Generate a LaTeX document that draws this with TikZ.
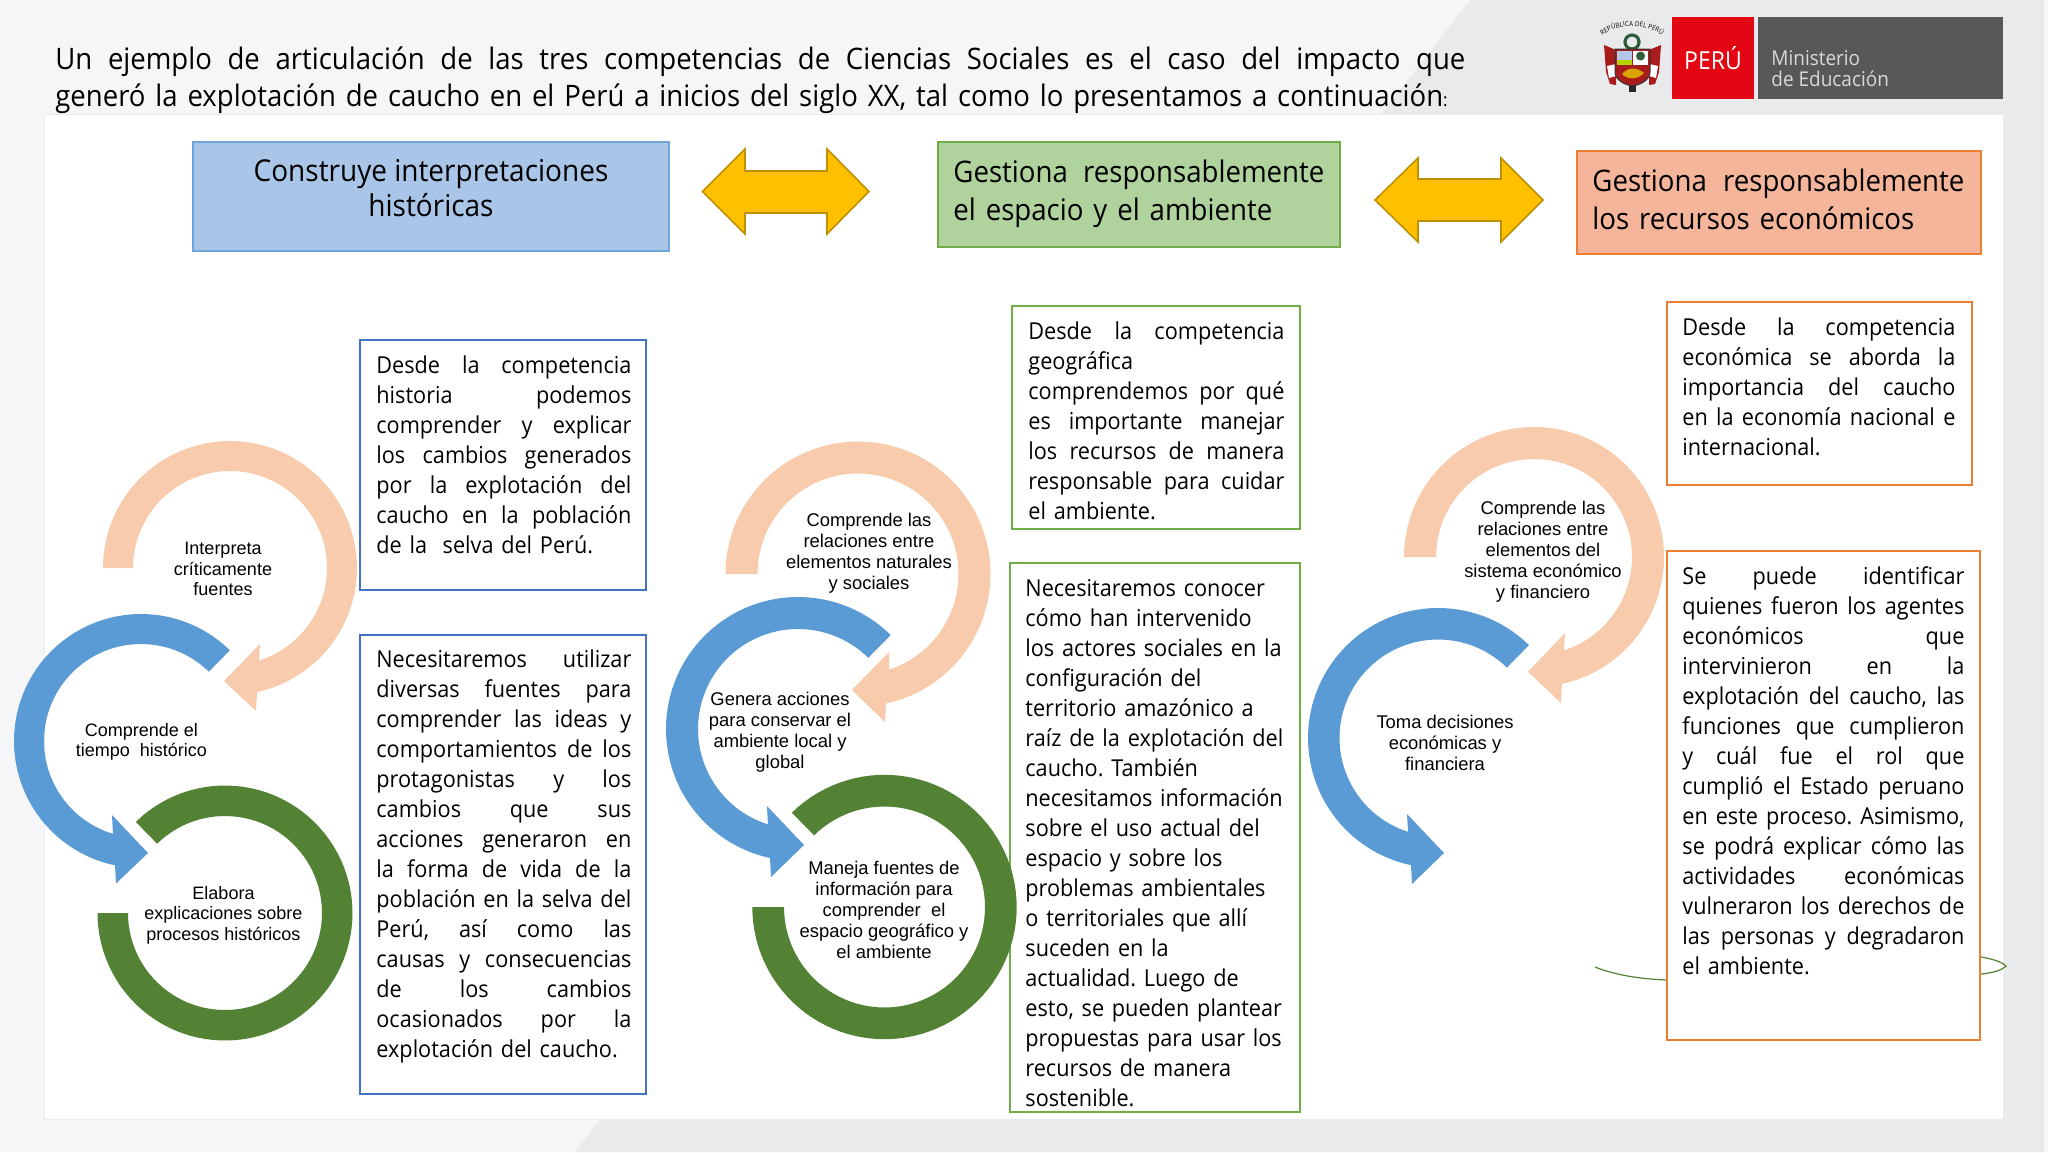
\documentclass[tikz,border=0pt]{standalone}
\usepackage{fontspec}
\usetikzlibrary{decorations.text}
\setmainfont[FakeStretch=0.93]{Open Sans}
\newfontfamily\lblfont{Liberation Sans}
\definecolor{bglight}{HTML}{F5F6F8}
\definecolor{bgdark}{HTML}{E9EAEC}
\definecolor{peach}{HTML}{F7CBAC}
\definecolor{ringblue}{HTML}{5B9BD5}
\definecolor{ringgreen}{HTML}{548235}
\definecolor{gold}{HTML}{FFC000}
\definecolor{goldline}{HTML}{BF9000}
\definecolor{headblue}{HTML}{A9C5E7}
\definecolor{headblueline}{HTML}{6FA5DA}
\definecolor{headgreen}{HTML}{B0D29D}
\definecolor{headgreenline}{HTML}{70AD47}
\definecolor{headorange}{HTML}{F5B59B}
\definecolor{headorangeline}{HTML}{ED7D31}
\definecolor{boxblue}{HTML}{4472C4}
\definecolor{perured}{HTML}{E30613}
\definecolor{perugray}{HTML}{58585A}
\definecolor{crestred}{HTML}{A81C1C}
\definecolor{crestgreen}{HTML}{2F5D3A}
\newcommand\J[1]{\par\hbox to \hsize{\strut\frenchspacing\spaceskip=0.26em plus 1fil minus 0.05em\relax #1}}
\newcommand\Lf[1]{\par\hbox{\strut\frenchspacing #1}}
\newcommand\ringpart[8]{% colour, cx, cy, R, r, a0, outer end, inner end
  \fill[#1] plot[domain=#6:#7,samples=90] ({#2+#4*cos(\x)},{#3-#4*sin(\x)})
    -- plot[domain=#8:#6,samples=90] ({#2+#5*cos(\x)},{#3-#5*sin(\x)}) -- cycle;}
\newcommand\ringarrow[9]{% colour, cx, cy, R, r, a0, outer end, inner end, head points
  \fill[#1] plot[domain=#6:#7,samples=90] ({#2+#4*cos(\x)},{#3-#4*sin(\x)})
    -- #9 -- plot[domain=#8:#6,samples=90] ({#2+#5*cos(\x)},{#3-#5*sin(\x)}) -- cycle;}
\tikzset{
  head/.style={rectangle,anchor=north west,inner sep=0pt,outer sep=0pt,line width=.8pt},
  framebox/.style={rectangle,anchor=north west,inner sep=0pt,outer sep=0pt,line width=1.25pt,fill=white},
  bodytext/.style={anchor=north west,inner sep=0pt,font=\fontsize{11.65}{15}\selectfont},
  headtext/.style={anchor=north west,inner sep=0pt,font=\fontsize{14.85}{19}\selectfont},
  ringlabel/.style={inner sep=0pt,align=center,font=\lblfont\fontsize{9.2}{10.5}\selectfont},
  ringlabelsmall/.style={inner sep=0pt,align=center,font=\lblfont\fontsize{9}{10.2}\selectfont},
  dblarrow/.style={fill=gold,draw=goldline,line width=.8pt,line join=miter},
  thincurve/.style={draw=ringgreen,line width=.6pt}
}
\begin{document}
\begin{tikzpicture}[x=0.5pt,y=-0.5pt]
\useasboundingbox (0,0) rectangle (2048,1152);
% background
\fill[bglight] (0,0) rectangle (2048,1152);
\fill[bgdark] (1470,0) -- (2044,0) -- (2044,1152) -- (575,1152) -- cycle;
\fill[white,draw=black!8,line width=.5pt] (44,114) rectangle (2003,1119);
% title
\node[anchor=north west,inner sep=0pt,text width=705pt,font=\fontsize{14.8}{18.5}\selectfont] (title) at (55,32.5)
 {\J{Un ejemplo de articulación de las tres competencias de Ciencias Sociales es el caso del impacto que}%
  \Lf{generó la explotación de caucho en el Perú a inicios del siglo XX, tal como lo presentamos a continuación{\fontsize{9}{10}\selectfont:}}};
% logo
\node[rectangle,anchor=north west,outer sep=0pt,fill=perured,minimum width=41pt,minimum height=41pt,inner sep=0pt,text=white,font=\fontsize{12.4}{14}\selectfont] (peru) at (1672,17) {PERÚ};
\node[rectangle,anchor=north west,outer sep=0pt,fill=perugray,minimum width=122.5pt,minimum height=41pt,inner sep=0pt] (minbox) at (1758,17) {};
\node[anchor=west,inner sep=0pt,align=left,text=black!15,font=\fontsize{10.2}{10.6}\selectfont] (mintext) at (1771,69) {Ministerio\\de Educación};
% crest
\fill[crestred] (1604,45) -- (1616,50) -- (1616,85) -- (1610,84) -- (1606,72) -- cycle;
\fill[crestred] (1661,45) -- (1649,50) -- (1649,85) -- (1655,84) -- (1659,72) -- cycle;
\fill[white] (1607,66) -- (1616,64) -- (1616,76) -- (1609,78) -- cycle;
\fill[white] (1658,66) -- (1649,64) -- (1649,76) -- (1656,78) -- cycle;
\draw[crestgreen,line width=1.6pt] (1632,42) circle [radius=7];
\fill[crestred,draw=black!80,line width=.5pt] (1615,49) -- (1650,49) -- (1650,72) .. controls (1650,80) and (1640,85) .. (1632.5,86) .. controls (1625,85) and (1615,80) .. (1615,72) -- cycle;
\fill[black!15!green!30!blue!30] (1617,51) rectangle (1632,65);
\fill[gold!70!green] (1617,60) rectangle (1632,65);
\fill[white] (1633,51) rectangle (1648,65);
\fill[crestgreen] (1640.5,56) circle [radius=4.5];
\fill[gold!85!black] (1622,74) .. controls (1628,67) and (1637,67) .. (1644,73) .. controls (1637,80) and (1628,80) .. (1622,74) -- cycle;
\fill[black!85] (1629,86) rectangle (1636,92);
\path[decorate,decoration={text along path,text align=center,text={|\fontsize{3.4}{4}\selectfont|REPÚBLICA DEL PERÚ}}] (1601,38) .. controls (1612,22) and (1651,22) .. (1663,38);
% headers
\node[head,fill=headblue,draw=headblueline,minimum width=238pt,minimum height=54.5pt] (h1) at (193,142) {};
\node[inner sep=0pt,align=center,font=\fontsize{15.05}{17.6}\selectfont] (h1t) at (431,188) {Construye interpretaciones\\históricas};
\node[head,fill=headgreen,draw=headgreenline,minimum width=201pt,minimum height=52.5pt] (h2) at (938,142) {};
\node[headtext,text width=185.5pt] (h2t) at (953,144.5) {\J{Gestiona responsablemente}\Lf{el espacio y el ambiente}};
\node[head,fill=headorange,draw=headorangeline,minimum width=202pt,minimum height=51.5pt] (h3) at (1577,151) {};
\node[headtext,text width=186pt] (h3t) at (1592,153.5) {\J{Gestiona responsablemente}\Lf{los recursos económicos}};
% double arrows
\draw[dblarrow] (702.5,191.5) -- (745,149) -- (745,171) -- (827,171) -- (827,149) -- (869,191.5) -- (827,234) -- (827,213) -- (745,213) -- (745,234) -- cycle;
\draw[dblarrow] (1375,200) -- (1418,158) -- (1418,179) -- (1501,179) -- (1501,158) -- (1543,200) -- (1501,242) -- (1501,221) -- (1418,221) -- (1418,242) -- cycle;
% thin curves behind the last box
\draw[thincurve] (1595,967) .. controls (1615,975) and (1640,979) .. (1667,980);
\draw[thincurve] (1981,957) .. controls (1993,959) and (2002,962) .. (2006,966) .. controls (2002,970) and (1993,973) .. (1981,974);
% text boxes
\node[framebox,draw=boxblue,minimum width=143pt,minimum height=125pt] (ba) at (360,340) {};
\node[bodytext,text width=127.5pt] (bat) at (376,343) {%
 \J{Desde la competencia}\J{historia podemos}\J{comprender y explicar}\J{los cambios generados}\J{por la explotación del}\J{caucho en la población}\Lf{de la\ \ selva del Perú.}};
\node[framebox,draw=boxblue,minimum width=143pt,minimum height=229.5pt] (bb) at (360,635) {};
\node[bodytext,text width=127.5pt] (bbt) at (376,637.5) {%
 \J{Necesitaremos utilizar}\J{diversas fuentes para}\J{comprender las ideas y}\J{comportamientos de los}\J{protagonistas y los}\J{cambios que sus}\J{acciones generaron en}\J{la forma de vida de la}\J{población en la selva del}\J{Perú, así como las}\J{causas y consecuencias}\J{de los cambios}\J{ocasionados por la}\Lf{explotación del caucho.}};
\node[framebox,draw=headgreenline,minimum width=144pt,minimum height=111.5pt] (bc) at (1012,306) {};
\node[bodytext,text width=128pt] (bct) at (1028,309) {%
 \J{Desde la competencia}\Lf{geográfica}\J{comprendemos por qué}\J{es importante manejar}\J{los recursos de manera}\J{responsable para cuidar}\Lf{el ambiente.}};
\node[framebox,draw=headgreenline,minimum width=145pt,minimum height=274.5pt] (bd) at (1010,563) {};
\node[bodytext,text width=130pt] (bdt) at (1025,566) {%
 \Lf{Necesitaremos conocer}\Lf{cómo han intervenido}\Lf{los actores sociales en la}\Lf{configuración del}\Lf{territorio amazónico a}\Lf{raíz de la explotación del}\Lf{caucho. También}\Lf{necesitamos información}\Lf{sobre el uso actual del}\Lf{espacio y sobre los}\Lf{problemas ambientales}\Lf{o territoriales que allí}\Lf{suceden en la}\Lf{actualidad. Luego de}\Lf{esto, se pueden plantear}\Lf{propuestas para usar los}\Lf{recursos de manera}\Lf{sostenible.}};
\node[framebox,draw=headorangeline,minimum width=152.5pt,minimum height=91.5pt] (be) at (1667,302) {};
\node[bodytext,text width=136.5pt] (bet) at (1682,305) {%
 \J{Desde la competencia}\J{económica se aborda la}\J{importancia del caucho}\J{en la economía nacional e}\Lf{internacional.}};
\node[framebox,draw=headorangeline,minimum width=156.5pt,minimum height=244.5pt] (bf) at (1667,551) {};
\node[bodytext,text width=141pt] (bft) at (1682,554) {%
 \J{Se puede identificar}\J{quienes fueron los agentes}\J{económicos que}\J{intervinieron en la}\J{explotación del caucho, las}\J{funciones que cumplieron}\J{y cuál fue el rol que}\J{cumplió el Estado peruano}\J{en este proceso. Asimismo,}\J{se podrá explicar cómo las}\J{actividades económicas}\J{vulneraron los derechos de}\J{las personas y degradaron}\Lf{el ambiente.}};
% left swirl
\ringarrow{peach}{230}{568}{127}{97}{180}{-77.7}{-72.6}{(256,711) -- (224,681) -- (260,644)}
\ringarrow{ringblue}{141}{741}{127}{97}{45.6}{258.2}{253.2}{(116,883.5) -- (148,853) -- (112,815)}
\ringpart{ringgreen}{225}{913}{127.5}{97}{180}{494.4}{494.4}
\node[ringlabelsmall] (l1) at (223,569) {Interpreta\\críticamente\\fuentes};
\node[ringlabelsmall] (l2) at (141.5,742) {Comprende el\\tiempo\ \ histórico};
\node[ringlabelsmall] (l3) at (223.5,915) {Elabora\\explicaciones sobre\\procesos históricos};
% middle swirl
\ringarrow{peach}{858}{574}{132.5}{100.5}{180}{-77.8}{-72}{(885,722) -- (852,690) -- (889,652)}
\ringarrow{ringblue}{798}{729}{132}{100}{45.4}{257.75}{252.5}{(771,877) -- (804,845) -- (767,806)}
\ringpart{ringgreen}{884.5}{907}{132.2}{100.5}{180}{494.5}{494.5}
\node[ringlabel] (m1) at (869,553) {Comprende las\\relaciones entre\\elementos naturales\\y sociales};
\node[ringlabel] (m2) at (780,732) {Genera acciones\\para conservar el\\ambiente local y\\global};
\node[ringlabel] (m3) at (884,910) {Maneja fuentes de\\información para\\comprender\ \ el\\espacio geográfico y\\el ambiente};
% right swirl
\ringarrow{peach}{1534}{557}{130}{98}{180}{-77.6}{-72.2}{(1561,703) -- (1528,671.7) -- (1565,633)}
\ringarrow{ringblue}{1438}{738}{130}{98.5}{45.6}{258}{252.3}{(1412,884) -- (1444,853) -- (1407,814)}
\node[ringlabel] (r1) at (1543,551.5) {Comprende las\\relaciones entre\\elementos del\\sistema económico\\y financiero};
\node[ringlabel] (r2) at (1445,743) {Toma decisiones\\económicas y\\financiera};
\end{tikzpicture}
\end{document}
